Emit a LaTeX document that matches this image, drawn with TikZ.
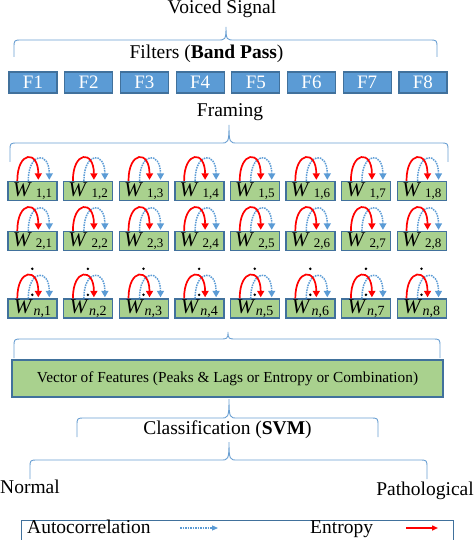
\documentclass[tikz,border=0pt]{standalone}
\usepackage{fontspec}
\setmainfont{Liberation Serif}
\usetikzlibrary{arrows.meta,calc}
\definecolor{boxblue}{HTML}{5B9BD5}
\definecolor{edgeblue}{HTML}{41719C}
\definecolor{wgreen}{HTML}{A9D18E}
\definecolor{bracecol}{HTML}{6A9FD2}
\newcommand\myBrace[6]{%
  \draw[bracebd] (#1,#6) -- (#1,#5+8) .. controls (#1,#5) .. (#1+8,#5)
    -- (#3-8,#5) .. controls (#3-1,#5) and (#3,#5) .. (#3,#4)
    .. controls (#3,#5) and (#3+1,#5) .. (#3+8,#5)
    -- (#2-8,#5) .. controls (#2,#5) .. (#2,#5+8) -- (#2,#6);}
\newcommand\wlab[2]{\fontsize{21}{21}\selectfont\textit{W}\hspace{4pt}\raisebox{-1.5pt}{\fontsize{13}{13}\selectfont #1,#2}}
\newcommand\wnlab[1]{\fontsize{21}{21}\selectfont\textit{W}\hspace{0.5pt}\raisebox{-1.5pt}{\fontsize{14}{14}\selectfont\textit{n},#1}}
\begin{document}
\begin{tikzpicture}[x=1pt,y=-1pt,
  fbox/.style={draw=edgeblue, line width=1.2pt, fill=boxblue, minimum width=48pt, minimum height=21pt, inner sep=0pt, text=white, font=\fontsize{19}{19}\selectfont},
  wbox/.style={draw=edgeblue, line width=1.4pt, fill=wgreen, minimum width=49pt, minimum height=19pt, inner sep=0pt},
  lbl/.style={font=\fontsize{19.5}{20}\selectfont, inner sep=0pt, anchor=base},
  bracebd/.style={draw=bracecol, line width=0.9pt},
  ent/.style={draw=red, line width=1.7pt, -{Triangle[length=6.5pt,width=7pt]}},
  acf/.style={draw=boxblue, line width=1.5pt, densely dotted, -{Triangle[length=6.5pt,width=7pt]}},
  dotm/.style={fill=black}]
\useasboundingbox (0,0) rectangle (474,540);
\clip (0,0) rectangle (474,540);

\node[lbl] (voiced) at (222,14) {Voiced Signal};
\myBrace{14}{437}{226}{27}{40}{57}
\node[lbl] (filters) at (206.5,59) {Filters (\textbf{Band Pass})};

\foreach \i in {1,...,8} {
  \pgfmathsetmacro\fx{33+55.7*(\i-1)}
  \node[fbox] (f\i) at (\fx,82.5) {F\i};
}

\node[lbl] (framing) at (230,117) {Framing};
\myBrace{10}{448}{229}{125}{143}{162}

\foreach \i in {1,...,8} {
  \pgfmathsetmacro\wx{32.5+55.6*(\i-1)}
  \node[wbox] (wa\i) at (\wx,191) {\wlab{1}{\i}};
  \node[wbox] (wb\i) at (\wx,241) {\wlab{2}{\i}};
  \node[wbox] (wn\i) at (\wx,308.5) {\wnlab{\i}};
  \foreach \r in {wa,wb,wn} {
    \coordinate (bs\r\i) at ($(\r\i.north west)+(21,0)$);
    \coordinate (be\r\i) at ($(\r\i.north west)+(42,-1)$);
    \coordinate (rs\r\i) at ($(\r\i.north west)+(10,0)$);
    \coordinate (re\r\i) at ($(\r\i.north west)+(31,-1)$);
    \draw[acf] (bs\r\i) .. controls +(0,-29) and +(0,-29) .. (be\r\i);
    \draw[ent] (rs\r\i) .. controls +(0,-30) and +(0,-30) .. (re\r\i);
  }
  \fill[dotm] ($(wn\i.north west)+(25,-29.5)$) circle (1.4);
  \fill[dotm] ($(wn\i.north west)+(25,-3.5)$) circle (1.4);
}

\myBrace{14}{440}{228}{332}{339}{358}
\node[draw=edgeblue, line width=1.3pt, fill=wgreen, minimum width=431pt, minimum height=37pt, inner sep=0pt,
  font=\fontsize{15.3}{16}\selectfont] (vec) at (227.5,378.5)
  {Vector of Features (Peaks \& Lags or Entropy or Combination)};

\myBrace{77}{378}{229}{399}{418}{437}
\node[lbl] (cls) at (227.5,434) {Classification (\textbf{SVM})};
\myBrace{30}{427}{229}{442}{460}{479}
\node[lbl, anchor=base west] (normal) at (0,493) {Normal};
\node[lbl, anchor=base east] (patho) at (474,495) {Pathological};

\node[draw=edgeblue, line width=1.2pt, minimum width=432pt, minimum height=40pt, inner sep=0pt, anchor=north west] (legend) at (21,520) {};
\node[lbl, anchor=base west] (lauto) at (27,533) {Autocorrelation};
\coordinate (la1) at (180,528);
\coordinate (la2) at (218,528);
\draw[acf, line width=1.1pt, -{Triangle[length=6pt,width=5pt]}] (la1) -- (la2);
\node[lbl, anchor=base west] (lent) at (310,533) {Entropy};
\coordinate (le1) at (406,528);
\coordinate (le2) at (438,528);
\draw[ent, line width=1.4pt, -{Triangle[length=6pt,width=5pt]}] (le1) -- (le2);
\end{tikzpicture}
\end{document}
